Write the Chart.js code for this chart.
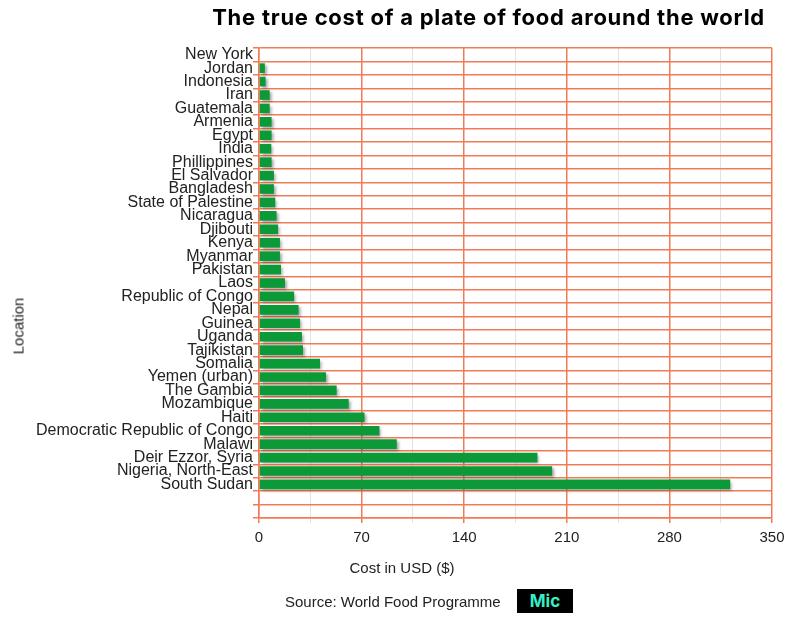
<!DOCTYPE html>
<html>
<head>
<meta charset="utf-8">
<script src="https://cdn.jsdelivr.net/npm/chart.js@4.4.1/dist/chart.umd.min.js"></script>
<style>
  body { margin: 0; background: #fff; }
  .wrap { position: relative; width: 800px; height: 617px; }
  .txt { position: absolute; font-family: "Liberation Sans", Arial, sans-serif; color: #222; white-space: nowrap; }
  #title { right: 35px; top: 4px; font-family: Inter, "Open Sans", sans-serif; font-weight: 700; font-size: 22px; letter-spacing: 0.75px; color: #000; }
  #ytitle { left: 18px; top: 326px; font-size: 15px; font-weight: 400; color: #222; transform: translate(-50%, -50%) rotate(-90deg); }
  #xtitle { left: 402px; top: 567px; font-size: 15px; transform: translate(-50%, -50%); }
  #source { left: 285px; top: 601px; font-size: 15px; transform: translateY(-50%); }
  #mic { position: absolute; left: 517px; top: 589px; width: 56px; height: 24px; background: #000; color: #35f0c6; font-family: Inter, sans-serif; font-weight: 700; font-size: 17px; text-align: center; line-height: 24px; }
</style>
</head>
<body>
<div class="wrap">
  <canvas id="foodChart" width="800" height="617"></canvas>
  <div class="txt" id="title">The true cost of a plate of food around the world</div>
  <div class="txt" id="ytitle">Location</div>
  <div class="txt" id="xtitle">Cost in USD ($)</div>
  <div class="txt" id="source">Source: World Food Programme</div>
  <div id="mic">Mic</div>
</div>
<script>
// locations, top to bottom (two empty rows at the bottom like the original)
const locations = [
  'New York', 'Jordan', 'Indonesia', 'Iran', 'Guatemala', 'Armenia', 'Egypt', 'India',
  'Phillippines', 'El Salvador', 'Bangladesh', 'State of Palestine', 'Nicaragua', 'Djibouti',
  'Kenya', 'Myanmar', 'Pakistan', 'Laos', 'Republic of Congo', 'Nepal', 'Guinea', 'Uganda',
  'Tajikistan', 'Somalia', 'Yemen (urban)', 'The Gambia', 'Mozambique', 'Haiti',
  'Democratic Republic of Congo', 'Malawi', 'Deir Ezzor, Syria', 'Nigeria, North-East',
  'South Sudan', '', ''
];

// cost of a plate in USD
const costs = [
  0, 4, 4.5, 7.3, 7.3, 8.6, 8.6, 8.4,
  8.6, 10.2, 10.2, 11.1, 12, 13,
  14.3, 14.3, 15, 17.7, 24, 27, 28, 29.3,
  30, 41.6, 45.7, 53, 61.2, 72,
  82.2, 94, 190, 200,
  321.5, null, null
];

const xMin = 0;
const xMax = 350;
const xStep = 35;      // minor grid every 35
const xLabelStep = 70; // labels every 70

const orange = '#ef7b57';
const lightGrid = '#e2e2e2';

// soft grey shadow under the bars
const barShadow = {
  id: 'barShadow',
  beforeDatasetsDraw(chart) {
    const ctx = chart.ctx;
    ctx.save();
    ctx.shadowColor = 'rgba(0,0,0,0.35)';
    ctx.shadowBlur = 3;
    ctx.shadowOffsetX = 2;
    ctx.shadowOffsetY = 2;
  },
  afterDatasetsDraw(chart) {
    chart.ctx.restore();
  }
};

new Chart(document.getElementById('foodChart'), {
  type: 'bar',
  data: {
    labels: locations,
    datasets: [{
      data: costs,
      backgroundColor: '#0b9a37',
      borderWidth: 0,
      barPercentage: 0.72,
      categoryPercentage: 1
    }]
  },
  plugins: [barShadow],
  options: {
    indexAxis: 'y',
    responsive: false,
    animation: false,
    layout: { padding: { top: 48, right: 28, bottom: 0, left: 0 } },
    plugins: {
      legend: { display: false },
      tooltip: { enabled: false }
    },
    scales: {
      x: {
        min: xMin,
        max: xMax,
        afterFit: (scale) => { scale.height = 99; },
        ticks: {
          stepSize: xStep,
          autoSkip: false,
          maxRotation: 0,
          padding: 6,
          color: '#222',
          font: { family: '"Liberation Sans", Arial, sans-serif', size: 15 },
          callback: (v) => (v % xLabelStep === 0 ? v : '')
        },
        grid: {
          color: (c) => (c.tick && c.tick.value % xLabelStep === 0 ? orange : lightGrid),
          lineWidth: (c) => (c.tick && c.tick.value % xLabelStep === 0 ? 1.5 : 1),
          tickLength: 5
        },
        border: { color: orange, width: 1.5 }
      },
      y: {
        afterFit: (scale) => { scale.width = 259; },
        ticks: {
          autoSkip: false,
          padding: 0,
          color: '#222',
          font: { family: '"Liberation Sans", Arial, sans-serif', size: 16, lineHeight: 1 }
        },
        grid: {
          color: orange,
          lineWidth: 1.5,
          tickLength: 6
        },
        border: { color: orange, width: 1.5 }
      }
    }
  }
});
</script>
</body>
</html>
